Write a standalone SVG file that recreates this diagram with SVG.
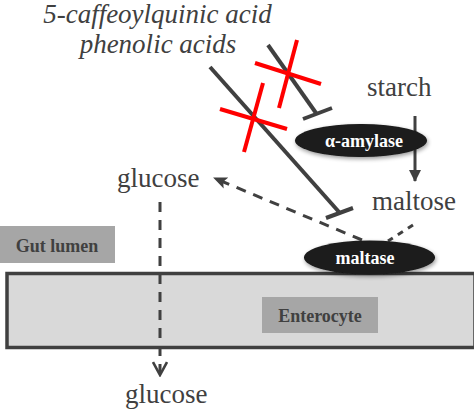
<svg xmlns="http://www.w3.org/2000/svg" width="474" height="413" viewBox="0 0 474 413">
<defs>
<style>
.lbl{font-family:"Liberation Serif","Times New Roman",serif;font-size:27px;fill:#404040}
.it{font-style:italic}
.bold{font-family:"Liberation Serif","Times New Roman",serif;font-weight:bold;font-size:18px;text-anchor:middle}
.ln{stroke:#404040;stroke-width:4;fill:none}
.red{stroke:#ff0000;stroke-width:4;fill:none}
.dash{stroke:#404040;stroke-width:3;fill:none;stroke-dasharray:10 8}
.box{fill:#a6a6a6}
.enz{fill:#1a1a1a}
</style>
<marker id="fill" viewBox="0 0 12 12" refX="11" refY="6" markerWidth="12" markerHeight="12" orient="auto" markerUnits="userSpaceOnUse">
<path d="M0,0 L12,6 L0,12 z" fill="#404040"/>
</marker>
<marker id="fill2" viewBox="0 0 14 14" refX="13" refY="7" markerWidth="14" markerHeight="14" orient="auto" markerUnits="userSpaceOnUse">
<path d="M0,1 L14,7 L0,13 L3,7 z" fill="#404040"/>
</marker>
<marker id="open" viewBox="0 0 16 16" refX="14" refY="8" markerWidth="16" markerHeight="16" orient="auto" markerUnits="userSpaceOnUse">
<path d="M1,1 L14,8 L1,15" fill="none" stroke="#404040" stroke-width="2.6"/>
</marker>
<filter id="sh" x="-20%" y="-40%" width="140%" height="180%">
<feGaussianBlur in="SourceAlpha" stdDeviation="2"/>
<feOffset dx="1" dy="2"/>
<feComponentTransfer><feFuncA type="linear" slope="0.4"/></feComponentTransfer>
<feMerge><feMergeNode/><feMergeNode in="SourceGraphic"/></feMerge>
</filter>
</defs>
<rect width="474" height="413" fill="#ffffff"/>

<g id="enterocyte-layer">
<rect x="7" y="273.5" width="468" height="74" fill="#d9d9d9" stroke="#404040" stroke-width="3.5"/>
</g>

<g id="gut-lumen">
<rect class="box" x="0" y="226" width="115" height="37"/>
<text class="bold" x="57" y="252" fill="#404040">Gut lumen</text>
</g>

<g id="enterocyte">
<rect class="box" x="262" y="297" width="116" height="36"/>
<text class="bold" x="320" y="322" fill="#404040">Enterocyte</text>
</g>

<g id="connectors">
<line x1="415" y1="116" x2="415" y2="181" stroke="#404040" stroke-width="3" marker-end="url(#fill)"/>
<path class="dash" d="M362,240 L214,178" marker-end="url(#fill2)"/>
<path d="M413,225 L388,241" stroke="#404040" stroke-width="3" stroke-dasharray="6 6" fill="none"/>
<path class="dash" d="M160,202 L160,375" marker-end="url(#open)"/>
<line class="ln" x1="268" y1="45" x2="316" y2="113"/>
<line class="ln" x1="303" y1="119" x2="332" y2="108"/>
<line class="ln" x1="210" y1="67" x2="339" y2="212"/>
<line class="ln" x1="326" y1="218" x2="353" y2="208"/>
</g>

<g id="block-x-1">
<line class="red" x1="255" y1="63" x2="321" y2="84"/>
<line class="red" x1="297" y1="40" x2="279" y2="108"/>
</g>
<g id="block-x-2">
<line class="red" x1="220" y1="109" x2="287" y2="129"/>
<line class="red" x1="263" y1="83" x2="244" y2="152"/>
</g>

<g id="alpha-amylase">
<ellipse class="enz" cx="361" cy="140.5" rx="66" ry="16.5" filter="url(#sh)"/>
<text class="bold" x="364" y="147" fill="#ffffff">α-amylase</text>
</g>

<g id="maltase">
<ellipse class="enz" cx="369.5" cy="257.5" rx="65.5" ry="17" filter="url(#sh)"/>
<text class="bold" x="365" y="264" fill="#ffffff">maltase</text>
</g>

<g id="compounds">
<text class="lbl it" x="157.5" y="23" text-anchor="middle">5-caffeoylquinic acid</text>
<text class="lbl it" x="158" y="53" text-anchor="middle">phenolic acids</text>
</g>
<g id="starch"><text class="lbl" x="367" y="96">starch</text></g>
<g id="maltose"><text class="lbl" x="372" y="210">maltose</text></g>
<g id="glucose-top"><text class="lbl" x="117" y="187">glucose</text></g>
<g id="glucose-bottom"><text class="lbl" x="125" y="403">glucose</text></g>
</svg>
